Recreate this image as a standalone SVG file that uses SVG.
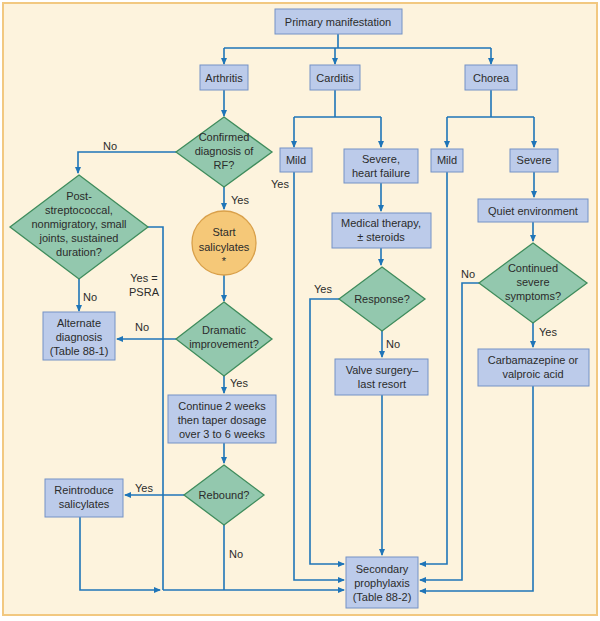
<svg xmlns="http://www.w3.org/2000/svg" width="600" height="621" viewBox="0 0 600 621">
<style>
.b{fill:#bccbea;stroke:#7592c6;stroke-width:1}
.d{fill:#93c8ae;stroke:#3f8c5c;stroke-width:1.3}
.c{fill:#f5c878;stroke:#d9a04a;stroke-width:1.3}
text{font-family:"Liberation Sans",Arial,sans-serif;font-size:11px;fill:#2b2b2b;text-anchor:middle}
.l{text-anchor:start}
#conn path{fill:none;stroke:#1f75b8;stroke-width:1.6;marker-end:url(#a)}
#conn path.n{marker-end:none}
</style>
<defs><marker id="a" markerWidth="8" markerHeight="8" refX="6" refY="4" orient="auto" markerUnits="userSpaceOnUse"><path d="M0,1 L7,4 L0,7 Z" fill="#1f75b8"/></marker></defs>
<rect x="3" y="3" width="594" height="612" fill="#fdf3dd" stroke="#f2c880" stroke-width="2"/>
<g id="conn">
<path class="n" d="M338,34 V48 M224,48 H491"/>
<path d="M224,48 V64"/><path d="M335,48 V64"/><path d="M491,48 V64"/>
<path d="M224,90 V116"/>
<path d="M176,152 H78 V173"/>
<path class="n" d="M148,227 H163 V590"/>
<path d="M79,279 V311"/>
<path d="M224,187 V209"/>
<path d="M224,275 V301"/>
<path d="M176,339 H117"/>
<path d="M224,376 V393"/>
<path d="M224,443 V463"/>
<path d="M185,495 H125"/>
<path d="M80,517 V590 H160"/>
<path class="n" d="M224,525 V590"/>
<path d="M163,590 H344"/>
<path class="n" d="M335,90 V117 M294,117 H381"/>
<path d="M294,117 V147"/><path d="M381,117 V147"/>
<path d="M294,172 V580 H344"/>
<path d="M381,183 V211"/>
<path d="M381,248 V265"/>
<path d="M339,299 H310 V564 H344"/>
<path d="M382,331 V357"/>
<path d="M382,395 V555"/>
<path class="n" d="M491,90 V117 M447,117 H534"/>
<path d="M447,117 V147"/><path d="M534,117 V147"/>
<path d="M447,172 V564 H420"/>
<path d="M534,172 V197"/>
<path d="M533,222 V241"/>
<path d="M479,283 H462 V580 H420"/>
<path d="M533,323 V347"/>
<path d="M533,386 V591 H420"/>
</g>
<g id="primary"><rect class="b" x="275" y="9" width="127" height="25"/><text x="338" y="26">Primary manifestation</text></g>
<g id="arthritis"><rect class="b" x="200" y="65" width="48" height="25"/><text x="224" y="82">Arthritis</text></g>
<g id="carditis"><rect class="b" x="310" y="65" width="50" height="25"/><text x="335" y="82">Carditis</text></g>
<g id="chorea"><rect class="b" x="465" y="65" width="52" height="25"/><text x="491" y="82">Chorea</text></g>
<g id="confirmed"><polygon class="d" points="224,117 272,152 224,187 176,152"/><text x="224" y="141">Confirmed</text><text x="224" y="155">diagnosis of</text><text x="224" y="169">RF?</text></g>
<g id="poststrep"><polygon class="d" points="79,175 148,227 79,279 10,227"/><text x="79" y="200">Post-</text><text x="79" y="214">streptococcal,</text><text x="79" y="228">nonmigratory, small</text><text x="79" y="242">joints, sustained</text><text x="79" y="256">duration?</text></g>
<g id="alternate"><rect class="b" x="43" y="312" width="72" height="48"/><text x="79" y="327">Alternate</text><text x="79" y="341">diagnosis</text><text x="79" y="355">(Table 88-1)</text></g>
<g id="start"><circle class="c" cx="224" cy="243" r="32"/><text x="224" y="236">Start</text><text x="224" y="251">salicylates</text><text x="224" y="265">*</text></g>
<g id="dramatic"><polygon class="d" points="224,302 272,339 224,376 176,339"/><text x="224" y="334">Dramatic</text><text x="224" y="348">improvement?</text></g>
<g id="continue"><rect class="b" x="168" y="395" width="108" height="48"/><text x="222" y="410">Continue 2 weeks</text><text x="222" y="424">then taper dosage</text><text x="222" y="438">over 3 to 6 weeks</text></g>
<g id="rebound"><polygon class="d" points="224,465 264,495 224,525 184,495"/><text x="224" y="499">Rebound?</text></g>
<g id="reintroduce"><rect class="b" x="45" y="479" width="78" height="38"/><text x="84" y="494">Reintroduce</text><text x="84" y="508">salicylates</text></g>
<g id="mildc"><rect class="b" x="280" y="148" width="32" height="24"/><text x="296" y="164">Mild</text></g>
<g id="severehf"><rect class="b" x="344" y="149" width="74" height="34"/><text x="381" y="163">Severe,</text><text x="381" y="177">heart failure</text></g>
<g id="medical"><rect class="b" x="332" y="213" width="99" height="35"/><text x="381" y="227">Medical therapy,</text><text x="381" y="241">± steroids</text></g>
<g id="response"><polygon class="d" points="382,267 425,299 382,331 339,299"/><text x="382" y="303">Response?</text></g>
<g id="valve"><rect class="b" x="335" y="359" width="93" height="36"/><text x="382" y="374">Valve surgery–</text><text x="382" y="388">last resort</text></g>
<g id="mildch"><rect class="b" x="431" y="149" width="32" height="23"/><text x="447" y="164">Mild</text></g>
<g id="severech"><rect class="b" x="510" y="149" width="48" height="23"/><text x="534" y="164">Severe</text></g>
<g id="quiet"><rect class="b" x="478" y="199" width="110" height="23"/><text x="533" y="215">Quiet environment</text></g>
<g id="continued"><polygon class="d" points="533,243 587,283 533,323 479,283"/><text x="533" y="272">Continued</text><text x="533" y="286">severe</text><text x="533" y="300">symptoms?</text></g>
<g id="carba"><rect class="b" x="478" y="349" width="111" height="37"/><text x="533" y="364">Carbamazepine or</text><text x="533" y="378">valproic acid</text></g>
<g id="secondary"><rect class="b" x="346" y="557" width="72" height="51"/><text x="382" y="573">Secondary</text><text x="382" y="587">prophylaxis</text><text x="382" y="601">(Table 88-2)</text></g>
<g id="labels">
<text x="110" y="150">No</text><text x="240" y="204">Yes</text>
<text x="144" y="282">Yes =</text><text x="144" y="296">PSRA</text>
<text x="90" y="301">No</text><text x="142" y="331">No</text><text x="239" y="387">Yes</text>
<text x="144" y="492">Yes</text><text x="236" y="558">No</text>
<text x="280" y="188">Yes</text><text x="323" y="293">Yes</text><text x="393" y="348">No</text>
<text x="468" y="278">No</text><text x="548" y="336">Yes</text>
</g>
</svg>
